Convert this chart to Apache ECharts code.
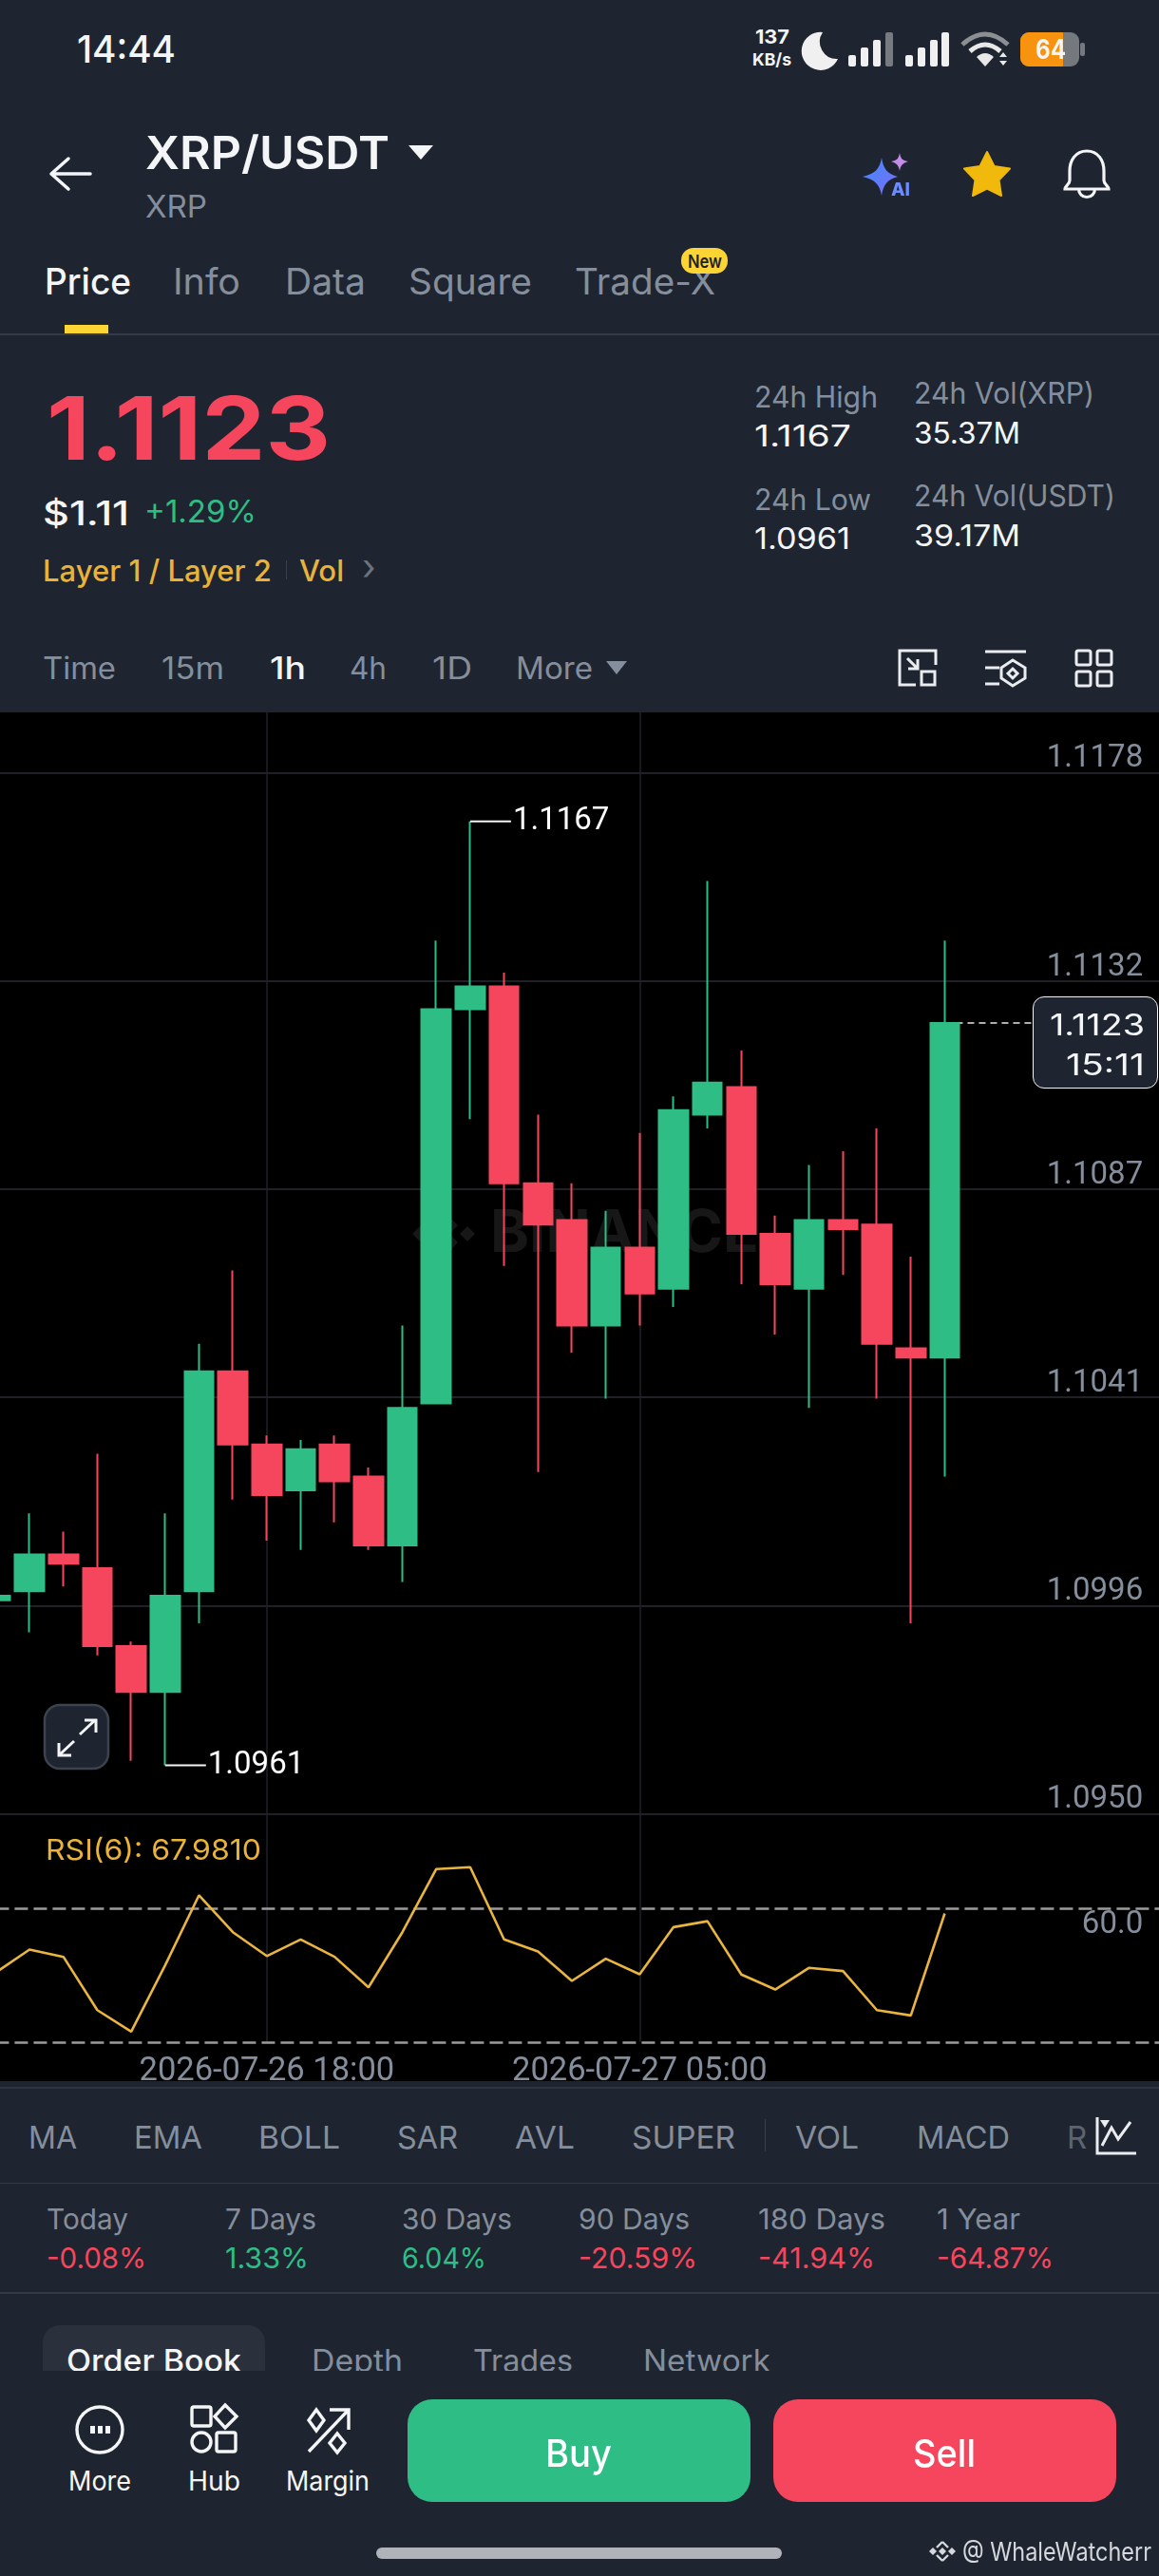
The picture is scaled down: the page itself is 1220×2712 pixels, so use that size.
<!DOCTYPE html>
<html><head><meta charset="utf-8">
<script src="https://cdn.jsdelivr.net/npm/echarts@6/dist/echarts.min.js"></script>
<style>
html,body{margin:0;padding:0;background:#1e2530;}
#page{position:absolute;left:0;top:0;width:1220px;height:2712px;overflow:hidden;background:#1e2530;font-family:Inter,Roboto,sans-serif;}
#chart{position:absolute;left:0;top:750px;width:1220px;height:1441px;background:#000;}
.t{position:absolute;white-space:nowrap;transform-origin:left center;line-height:1;}
.r{position:absolute;}
#icons{position:absolute;left:0;top:0;width:1220px;height:2712px;z-index:6;pointer-events:none;}
</style></head><body>
<div id="page">
<div id="chart"></div>
<div class="r" style="left:0;top:351px;width:1220px;height:2px;background:#333a45"></div>
<div class="r" style="left:68px;top:342px;width:46px;height:9px;background:#fcd535"></div>
<div class="r" style="left:0;top:2197px;width:1220px;height:2px;background:#2f3641"></div>
<div class="r" style="left:0;top:2298px;width:1220px;height:1px;background:#333a45"></div>
<div class="r" style="left:0;top:2413px;width:1220px;height:2px;background:#333a45"></div>
<div class="r" style="left:805px;top:2231px;width:1px;height:34px;background:#3a414d"></div>
<div class="r" style="left:301px;top:590px;width:1px;height:20px;background:#3a414d"></div>
<div class="r" style="left:717px;top:261px;width:49px;height:27px;border-radius:13px;background:#fcd535;z-index:3"></div>
<div class="r" style="left:45px;top:2448px;width:234px;height:60px;border-radius:18px 18px 0 0;background:#2a303c"></div>
<div class="r" id="bottomPanel" style="left:0;top:2496px;width:1220px;height:216px;background:#1e2530;z-index:4"></div>
<div class="r" style="left:429px;top:2526px;width:361px;height:108px;border-radius:26px;background:#2ebd85;z-index:5"></div>
<div class="r" style="left:814px;top:2526px;width:361px;height:108px;border-radius:26px;background:#f6465d;z-index:5"></div>
<div class="r" style="left:396px;top:2682px;width:427px;height:12px;border-radius:6px;background:#b0b3b8;z-index:5"></div>
<div class="r" style="left:1087px;top:1049px;width:130px;height:95px;border-radius:12px;background:#1e2530;border:1.5px solid #f4f5f6;z-index:5"></div>
<svg id="icons" viewBox="0 0 1220 2712" xmlns="http://www.w3.org/2000/svg">
 <defs><linearGradient id="ai" x1="0" y1="0" x2="1" y2="1"><stop offset="0" stop-color="#3f8cff"/><stop offset="1" stop-color="#7c6cf5"/></linearGradient></defs>
 <path d="M866 34 A20 20 0 1 0 882 62 A18 18 0 0 1 866 34Z" fill="#f0f0f0"/>
 <g fill="#f0f0f0"><rect x="893" y="58" width="8" height="12" rx="2"/><rect x="906" y="50" width="8" height="20" rx="2"/><rect x="919" y="42" width="8" height="28" rx="2"/><rect x="932" y="34" width="8" height="36" rx="2" fill="#777b80"/>
 <rect x="953" y="58" width="8" height="12" rx="2"/><rect x="966" y="50" width="8" height="20" rx="2"/><rect x="979" y="42" width="8" height="28" rx="2"/><rect x="991" y="34" width="8" height="36" rx="2"/></g>
 <g fill="none" stroke="#8b8f94" stroke-width="5"><path d="M1013 47 Q1037 25 1061 47"/></g>
 <g fill="none" stroke="#e8e8e8" stroke-width="5"><path d="M1021 54 Q1037 40 1053 54"/></g>
 <path d="M1028 60 Q1037 52 1046 60 L1037 70Z" fill="#e8e8e8"/>
 <path d="M1052 60 l4 -5 l4 5z M1052 64 l4 5 l4 -5z" fill="#e8e8e8"/>
 <rect x="1074" y="34" width="62" height="36" rx="9" fill="#75787c"/>
 <path d="M1083 34 H1119 V70 H1083 A9 9 0 0 1 1074 61 V43 A9 9 0 0 1 1083 34Z" fill="#f7930e"/>
 <rect x="1137" y="45" width="5" height="14" rx="2" fill="#75787c"/>
 <path d="M95 183 H55 M72 167 L54 183 L72 199" fill="none" stroke="#f4f5f6" stroke-width="3.5" stroke-linecap="round" stroke-linejoin="round"/>
 <path d="M430 153 H456 L443 168Z" fill="#f4f5f6"/>
 <path d="M928 166 C930 178 934 183 945 186 C934 189 930 194 928 206 C926 194 921 189 908 186 C921 183 926 178 928 166Z" fill="url(#ai)"/>
 <path d="M947 161 C948 167 950 169 956 170 C950 172 948 174 947 180 C946 174 944 172 938 170 C944 169 946 167 947 161Z" fill="#c58be8"/>
 <text x="938" y="206" font-family="Inter,sans-serif" font-weight="800" font-size="19" fill="#6b8cff">AI</text>
 <polygon points="1039,160 1046.5,175 1063,177.5 1051.5,189.5 1054,206 1039,198.5 1024,206 1026.5,189.5 1015,177.5 1031.5,175" fill="#f0b90b" stroke="#f0b90b" stroke-width="2" stroke-linejoin="round"/>
 <path d="M1144 159 c-12 0 -18 10 -18 21 v10 c0 4 -5 6 -5 9 h46 c0 -3 -5 -5 -5 -9 v-10 c0 -11 -6 -21 -18 -21z M1135.5 199 a8.5 8.5 0 0 0 17 0" fill="none" stroke="#f4f5f6" stroke-width="3.2"/>
 <path d="M638 696 H660 L649 710Z" fill="#848e9c"/>
 <g fill="none" stroke="#eaecef" stroke-width="3">
  <path d="M985 700 V685 H947 V721 H964"/><path d="M955 693 L966 704 M966 694 V704 H956"/><rect x="970" y="707" width="14" height="14"/>
  <path d="M1037 686 H1080 M1037 703 H1052 M1037 720 H1052"/><path d="M1066 695 L1079 703 V714 L1066 722 L1054 714 V703Z"/><path d="M1066 704 L1071 709 L1066 714 L1061 709Z"/>
  <rect x="1133" y="685" width="15" height="15" rx="2"/><rect x="1155" y="685" width="15" height="15" rx="2"/><rect x="1133" y="707" width="15" height="15" rx="2"/><rect x="1155" y="707" width="15" height="15" rx="2"/>
 </g>
 <rect x="47" y="1795" width="67" height="67" rx="16" fill="#1e2530" stroke="#3c434e" stroke-width="2.5"/>
 <path d="M84 1826 L100 1811 M89 1811 H101 V1824 M78 1833 L62 1848 M62 1835 V1848 H75" fill="none" stroke="#f4f5f6" stroke-width="3"/>
 <path d="M1155 2229 V2267 H1196" fill="none" stroke="#eaecef" stroke-width="3"/>
 <path d="M1160 2259 L1170 2240 L1177 2252 L1190 2234" fill="none" stroke="#eaecef" stroke-width="3"/>
 <path d="M1158 2232 H1168 L1163 2240Z" fill="#eaecef"/>
 <g fill="none" stroke="#f4f5f6" stroke-width="3.4">
  <circle cx="105" cy="2558" r="24"/>
  <rect x="202" y="2534" width="20" height="20" rx="2"/><path d="M237 2532 L249 2544 L237 2556 L226 2544Z"/><circle cx="212" cy="2571" r="10"/><rect x="228" y="2561" width="20" height="20" rx="2"/>
  <path d="M333 2537 L341 2548 L333 2559 L325 2548Z"/><path d="M325 2581 L366 2538 M347 2537 H367 V2558"/><path d="M355 2562 L363 2572 L355 2582 L347 2572Z"/>
 </g>
 <g fill="#f4f5f6"><rect x="95" y="2554" width="5" height="8"/><rect x="103" y="2554" width="5" height="8"/><rect x="111" y="2554" width="5" height="8"/></g>
 <g fill="none" stroke="#d5d8dc" stroke-width="2.4"><path d="M992 2676 L998 2682 M992 2676 L986 2682 M992 2696 L998 2690 M992 2696 L986 2690"/></g>
 <g fill="#d5d8dc"><path d="M992 2682 L996 2686 L992 2690 L988 2686Z M982 2682 L986 2686 L982 2690 L978 2686Z M1002 2682 L1006 2686 L1002 2690 L998 2686Z"/></g>
</svg>
</div>
<script>
/* ---------- chart data ---------- */
var categories = ['2026-07-26 10:00','2026-07-26 11:00','2026-07-26 12:00','2026-07-26 13:00','2026-07-26 14:00','2026-07-26 15:00','2026-07-26 16:00','2026-07-26 17:00','2026-07-26 18:00','2026-07-26 19:00','2026-07-26 20:00','2026-07-26 21:00','2026-07-26 22:00','2026-07-26 23:00','2026-07-27 00:00','2026-07-27 01:00','2026-07-27 02:00','2026-07-27 03:00','2026-07-27 04:00','2026-07-27 05:00','2026-07-27 06:00','2026-07-27 07:00','2026-07-27 08:00','2026-07-27 09:00','2026-07-27 10:00','2026-07-27 11:00','2026-07-27 12:00','2026-07-27 13:00','2026-07-27 14:00','2026-07-27 15:00','2026-07-27 16:00','2026-07-27 17:00','2026-07-27 18:00','2026-07-27 19:00','2026-07-27 20:00','2026-07-27 21:00'];
var opens  = [1.0997,1.0999,1.1007,1.1004,1.0987,1.0977,1.0999,1.1047,1.1031,1.1021,1.1031,1.1024,1.1009,1.1040,1.1126,1.1131,1.1088,1.1080,1.1057,1.1074,1.1065,1.1103,1.1109,1.1077,1.1065,1.1080,1.1079,1.1052,1.1050];
var closes = [1.0998,1.1007,1.1005,1.0987,1.0977,1.0998,1.1047,1.1031,1.1020,1.1030,1.1023,1.1009,1.1039,1.1126,1.1131,1.1088,1.1079,1.1057,1.1074,1.1064,1.1104,1.1110,1.1077,1.1066,1.1080,1.1078,1.1053,1.1050,1.1123];
var lows   = [1.0995,1.0990,1.1000,1.0985,1.0962,1.0961,1.0992,1.1019,1.1010,1.1008,1.1014,1.1008,1.1001,1.1040,1.1102,1.1070,1.1025,1.1051,1.1041,1.1057,1.1061,1.1100,1.1066,1.1055,1.1039,1.1068,1.1041,1.0992,1.1024];
var highs  = [1.0999,1.1016,1.1012,1.1029,1.0988,1.1016,1.1053,1.1069,1.1033,1.1032,1.1033,1.1026,1.1057,1.1141,1.1167,1.1134,1.1103,1.1088,1.1082,1.1099,1.1107,1.1154,1.1117,1.1081,1.1092,1.1095,1.1100,1.1072,1.1141];
var rsiValues = [45.9,54.5,51.8,31.9,23.9,48.6,74.8,61.0,52.1,58.3,51.8,40.4,61.0,84.6,85.3,58.3,53.8,42.8,51.1,45.3,62.9,65.1,45.2,39.6,47.7,46.5,31.9,29.9,67.98];
var priceTicks = [1.09504,1.099584,1.104128,1.108672,1.113216,1.11776];
var rsiTicks = [60];
var rsiGuides = [70,20];
var timeLabels = ['2026-07-26 18:00','2026-07-27 05:00'];
var highMark = {at:'2026-07-27 00:00', value:1.1167};
var lowMark  = {at:'2026-07-26 15:00', value:1.0961};
var lastPrice = 1.1123;

/* ---------- chart ---------- */
var GREEN='#2ebd85', RED='#f6465d', AXIS='#848e9c';
var FONT='Roboto';
var chart = echarts.init(document.getElementById('chart'),null,{width:1220,height:1441});
var showTime = function(i,name){return timeLabels.indexOf(name)>=0;};
function xAxis(grid,withLabel){
  return {type:'category',gridIndex:grid,data:categories,boundaryGap:false,
    axisLine:{show:false},axisTick:{show:false},
    axisLabel:{show:withLabel,interval:showTime,color:AXIS,fontFamily:FONT,fontSize:34.5,margin:14,hideOverlap:false},
    splitLine:{show:true,interval:showTime,lineStyle:{color:'#1f2228',width:1.5}}};
}
function mark(points){return {type:'polygon',z:0,silent:true,shape:{points:points},style:{fill:'#171717'}};}
var option = {
  animation:false,
  backgroundColor:'#000',
  grid:[{left:-4.6,width:1248.8,top:0,height:1159.6,outerBoundsMode:'none'},{left:-4.6,width:1248.8,top:1159.6,height:240.2,outerBoundsMode:'none'}],
  xAxis:[xAxis(0,false),xAxis(1,true)],
  yAxis:[
   {type:'value',gridIndex:0,position:'right',min:1.09504,max:1.11908,
    axisLine:{show:false},
    axisTick:{show:false,customValues:priceTicks},
    axisLabel:{inside:true,margin:41,customValues:priceTicks,formatter:function(v){return v.toFixed(4);},color:AXIS,fontFamily:FONT,fontSize:33,verticalAlign:'bottom',lineHeight:29,showMaxLabel:true,showMinLabel:true},
    splitLine:{show:true,lineStyle:{color:'#2a2d35',width:1.5}}},
   {type:'value',gridIndex:1,position:'right',min:20,max:105.2,
    axisLine:{show:false},
    axisTick:{show:false,customValues:rsiTicks},
    axisLabel:{inside:true,margin:41,customValues:rsiTicks,formatter:function(v){return v.toFixed(1);},color:AXIS,fontFamily:FONT,fontSize:33,verticalAlign:'bottom',lineHeight:20},
    splitLine:{show:false}}
  ],
  graphic:{elements:[
   {type:'text',z:0,silent:true,style:{x:516,y:549,text:'BINANCE',font:'700 62px Inter',fill:'#171717',verticalAlign:'middle'}},
   mark([[467,525],[482,540],[473,549],[467,543],[461,549],[452,540]]),
   mark([[467,573],[482,558],[473,549],[467,555],[461,549],[452,558]]),
   mark([[442,541],[450,549],[442,557],[434,549]]),
   mark([[492,541],[500,549],[492,557],[484,549]])
  ]},
  series:[
   {type:'candlestick',xAxisIndex:0,yAxisIndex:0,z:3,barWidth:31,clip:true,
    data:opens.map(function(o,i){return [o,closes[i],lows[i],highs[i]];}),
    itemStyle:{color:GREEN,color0:RED,borderColor:GREEN,borderColor0:RED,borderWidth:2},
    markPoint:{silent:true,animation:false,
     symbol:'rect',symbolSize:[43,2],symbolOffset:[21.5,0],itemStyle:{color:'#f4f5f6'},
     label:{show:true,position:'right',distance:2,color:'#fff',fontFamily:FONT,fontSize:33,formatter:function(p){return p.value.toFixed(4);}},
     data:[{coord:[highMark.at,highMark.value],value:highMark.value},{coord:[lowMark.at,lowMark.value],value:lowMark.value}]},
    markLine:{silent:true,animation:false,symbol:'none',z:1,label:{show:false},
     lineStyle:{color:'#e8e8e8',type:[7,5],width:1.5},
     data:[[{coord:[categories[28],lastPrice]},{coord:[categories[31],lastPrice]}]]}},
   {type:'line',xAxisIndex:1,yAxisIndex:1,z:3,data:rsiValues,showSymbol:false,symbol:'none',
    lineStyle:{color:'#eab53f',width:2.6},
    markLine:{silent:true,animation:false,symbol:'none',z:2,label:{show:false},
     lineStyle:{color:'#9c9c9c',type:[14,6],width:2.5},
     data:rsiGuides.map(function(v){return {yAxis:v};})}}
  ]
};
chart.setOption(option);

/* ---------- app chrome text: [text, left, right, centreY, size, colour, weight, layer] ---------- */
var G='#848e9c', W='#f4f5f6', Y='#e9b33a';
var chrome = [
 ['14:44',81,185,52,40,W,500],
 ['137',795,831,39,20,W,700],['KB/s',792,833,63,18,W,700],['64',1090,1122,52,28,W,700,7],
 ['XRP/USDT',153,410,161,48,W,600],['XRP',153,218,218,32,G,400],
 ['Price',47,138,296,38,W,500],['Info',182,253,296,38,G,400],['Data',300,385,296,38,G,400],['Square',430,560,296,38,G,400],['Trade-X',605,753,296,38,G,400],
 ['New',724,760,275,19,'#1e2329',600,4],
 ['1.1123',49,348,451,92,RED,700],
 ['$1.11',45,136,540,35,W,500],['+1.29%',152,270,538,33,GREEN,400],
 ['Layer 1 / Layer 2',45,286,600,31,Y,500],['Vol',315,362,600,31,Y,500],
 ['24h High',794,924,417,31,G,400],['1.1167',794,896,458,31,W,400],['24h Vol(XRP)',962,1152,413,31,G,400],['35.37M',962,1074,455,31,W,400],
 ['24h Low',794,917,525,31,G,400],['1.0961',794,895,566,31,W,400],['24h Vol(USDT)',962,1174,521,31,G,400],['39.17M',962,1074,563,31,W,400],
 ['Time',45,122,704,32,G,400],['15m',170,236,704,32,G,400],['1h',284,322,704,32,W,500],['4h',368,407,704,32,G,400],['1D',455,497,704,32,G,400],['More',543,624,704,32,G,400],
 ['RSI(6): 67.9810',48,275,1947,30,Y,400,5],
 ['1.1123',1105,1205,1078,31,W,400,6],['15:11',1122,1205,1120,31,W,400,6],
 ['MA',30,81,2250,33,G,400],['EMA',141,213,2250,33,G,400],['BOLL',272,358,2250,33,G,400],['SAR',418,482,2250,33,G,400],['AVL',542,605,2250,33,G,400],['SUPER',665,774,2250,33,G,400],['VOL',837,904,2250,33,G,400],['MACD',965,1063,2250,33,G,400],
 ['Today',49,135,2336,30,G,400],['7 Days',237,333,2336,30,G,400],['30 Days',423,539,2336,30,G,400],['90 Days',609,726,2336,30,G,400],['180 Days',798,932,2336,30,G,400],['1 Year',986,1074,2336,30,G,400],
 ['-0.08%',49,154,2377,30,RED,400],['1.33%',237,325,2377,30,GREEN,400],['6.04%',423,512,2377,30,GREEN,400],['-20.59%',609,734,2377,30,RED,400],['-41.94%',798,921,2377,30,RED,400],['-64.87%',986,1109,2377,30,RED,400],
 ['Order Book',70,254,2485,33,W,500],['Depth',328,424,2485,33,G,400],['Trades',498,603,2485,33,G,400],['Network',677,811,2485,33,G,400],
 ['More',72,138,2612,28,W,400,5],['Hub',198,253,2612,28,W,400,5],['Margin',301,389,2612,28,W,400,5],
 ['Buy',574,644,2583,40,'#fff',500,6],['Sell',961,1027,2583,40,'#fff',500,6],
 ['@ WhaleWatcherr',1013,1212,2686,27,'#d5d8dc',400,6]
];
var page=document.getElementById('page');
chrome.forEach(function(c){
  var s=document.createElement('span');s.className='t';s.textContent=c[0];
  s.style.cssText+='left:'+c[1]+'px;top:'+c[3]+'px;font-size:'+c[4]+'px;color:'+c[5]+';font-weight:'+c[6]+';z-index:'+(c[7]||2);
  page.appendChild(s);
  var w=s.getBoundingClientRect().width;
  s.style.transform='translateY(-50%) scaleX('+((c[2]-c[1])/w)+')';
});
var tail=document.createElement('span');tail.className='t';tail.textContent='R';
tail.style.cssText+='left:1123px;top:2250px;font-size:33px;color:'+G+';opacity:.6;transform:translateY(-50%);z-index:2';
page.appendChild(tail);
var chev=document.createElement('span');chev.className='t';chev.textContent='›';
chev.style.cssText+='left:381px;top:596px;font-size:38px;color:#6b7280;transform:translateY(-50%);z-index:2';
page.appendChild(chev);
</script>
</body></html>
